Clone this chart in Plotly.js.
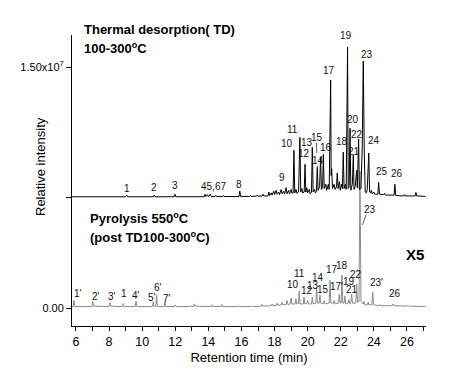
<!DOCTYPE html>
<html>
<head>
<meta charset="utf-8">
<script src="https://cdn.plot.ly/plotly-3.0.1.min.js"></script>
<style>html,body{margin:0;padding:0;background:#fff;}#chart{width:474px;height:380px;}</style>
</head>
<body>
<div id="chart"></div>
<script>
// ---- DATA (intensity in units of 10^6 counts) ----
// Thermal desorption (TD 100-300 °C) chromatogram
const tdTime = [5.76,9.0,9.06,9.12,10.68,10.73,10.78,11.93,11.98,12.03,13.75,13.8,13.85,13.95,14.0,14.12,14.18,14.4,14.45,14.5,14.85,14.9,14.95,15.85,15.9,15.95,16.5,16.55,16.6,16.9,16.95,17.0,17.25,17.3,17.35,17.6,17.65,17.7,17.8,17.85,17.95,18.0,18.1,18.15,18.25,18.3,18.4,18.45,18.55,18.6,18.7,18.75,18.85,18.9,19.0,19.05,19.12,19.17,19.22,19.3,19.35,19.45,19.53,19.58,19.65,19.7,19.79,19.84,19.89,19.95,20.0,20.1,20.15,20.23,20.28,20.33,20.42,20.47,20.53,20.58,20.63,20.72,20.78,20.83,20.9,20.95,21.0,21.1,21.15,21.25,21.3,21.39,21.42,21.45,21.5,21.6,21.65,21.74,21.79,21.84,21.92,21.97,22.05,22.1,22.15,22.2,22.28,22.33,22.41,22.45,22.51,22.56,22.61,22.7,22.76,22.8,22.88,22.96,23.0,23.08,23.12,23.22,23.3,23.36,23.42,23.48,23.55,23.6,23.69,23.74,23.8,23.85,23.9,24.0,24.05,24.24,24.29,24.34,24.6,24.65,24.7,25.0,25.22,25.27,25.32,25.8,25.85,25.9,26.49,26.54,26.6,27.13];
const tdIntensity = [0.05,0.05,0.25,0.05,0.05,0.25,0.05,0.06,0.35,0.06,0.06,0.35,0.08,0.3,0.08,0.35,0.08,0.08,0.2,0.08,0.08,0.2,0.08,0.08,0.7,0.1,0.1,0.2,0.1,0.12,0.25,0.12,0.15,0.35,0.15,0.15,0.6,0.2,0.5,0.25,0.7,0.3,0.8,0.35,0.6,0.3,0.9,0.4,0.7,0.35,1.1,0.4,0.8,0.4,0.9,0.45,0.5,5.42,0.5,0.9,0.45,0.6,6.9,0.6,1.0,0.5,0.6,3.8,0.6,1.1,0.5,0.9,0.4,0.6,5.77,0.6,0.9,0.5,0.7,3.5,0.8,1.2,4.6,0.9,1.2,4.95,1.0,1.5,0.8,1.5,0.9,13.5,2.5,3.3,1.0,1.5,0.9,1.2,2.8,1.0,1.8,0.8,1.5,1.0,5.2,1.0,1.5,0.9,17.3,1.0,1.2,7.95,0.8,1.5,4.9,0.9,1.3,3.1,1.1,6.7,0.9,1.0,6.0,15.7,5.0,0.6,0.5,0.9,5.1,0.6,0.5,0.8,0.4,0.6,0.35,0.35,1.7,0.35,0.3,0.45,0.25,0.25,0.25,1.5,0.2,0.15,0.3,0.15,0.15,0.55,0.15,0.1];

// Pyrolysis 550 °C (post TD) chromatogram, shown x5
const pyTime = [5.76,5.83,5.88,5.93,6.96,7.01,7.06,8.0,8.05,8.1,8.81,8.86,8.91,9.58,9.63,9.68,10.62,10.67,10.72,10.82,10.87,10.92,11.33,11.38,11.43,11.95,12.0,12.05,12.85,12.9,12.95,13.1,13.15,13.2,14.15,14.2,14.25,14.75,14.8,14.85,15.8,15.85,15.9,16.6,16.65,16.7,17.2,17.25,17.3,17.8,17.85,17.9,18.1,18.15,18.2,18.4,18.45,18.5,18.7,18.75,18.8,18.95,19.0,19.05,19.24,19.29,19.34,19.44,19.49,19.54,19.73,19.78,19.83,19.95,20.0,20.05,20.23,20.28,20.33,20.49,20.54,20.59,20.69,20.74,20.79,20.95,21.0,21.05,21.3,21.35,21.4,21.55,21.6,21.65,21.86,21.91,21.96,22.02,22.07,22.12,22.2,22.25,22.3,22.45,22.5,22.55,22.61,22.66,22.71,22.91,22.96,23.01,23.1,23.16,23.22,23.35,23.4,23.45,23.6,23.65,23.7,23.88,23.93,23.98,24.3,24.35,24.4,25.1,25.15,25.2,26.0,26.05,26.1,27.13];
const pyIntensity = [0.2,0.2,0.9,0.2,0.2,0.8,0.25,0.2,0.65,0.25,0.2,0.55,0.2,0.2,0.8,0.2,0.2,0.75,0.2,0.2,1.5,0.2,0.2,0.75,0.2,0.2,0.4,0.2,0.2,0.3,0.2,0.2,0.5,0.25,0.2,0.4,0.2,0.2,0.45,0.2,0.2,0.3,0.2,0.2,0.3,0.2,0.25,0.45,0.25,0.3,0.5,0.3,0.35,0.6,0.35,0.4,0.7,0.4,0.45,0.9,0.45,0.5,1.2,0.5,0.5,1.1,0.5,0.55,2.0,0.5,0.5,1.3,0.5,0.55,0.9,0.5,0.5,1.3,0.5,0.6,2.4,0.6,0.6,1.5,0.6,0.55,0.9,0.5,0.6,3.2,0.6,0.6,0.9,0.5,0.6,1.6,0.6,0.6,3.8,0.6,0.6,1.4,0.5,0.6,1.0,0.5,0.6,1.6,0.6,0.6,2.8,0.7,0.8,15.8,0.8,0.5,0.8,0.4,0.4,0.7,0.4,0.4,1.85,0.4,0.3,0.45,0.3,0.3,0.5,0.3,0.25,0.35,0.25,0.2];

const tdOffset = 12.8;                       // vertical offset of the TD trace
const yTickVals = [0, 12.8, 27.8];
const yTickText = ['0.00', '', '1.50x10<sup>7</sup>'];
const xTickVals = [6,7,8,9,10,11,12,13,14,15,16,17,18,19,20,21,22,23,24,25,26,27];
const xTickText = ['6','','8','','10','','12','','14','','16','','18','','20','','22','','24','','26',''];

// ---- geometry helpers for annotation placement (pixel -> data / paper) ----
const X = px => 6 + (px - 76) / 16.55;
const Y = py => (308.3 - py) / 8.667;
const PX = px => (px - 72) / 354;
const PY = py => (326 - py) / 291;

const FONT = 'Liberation Sans, Arial, sans-serif';
function lab(t, px, py, size) {
  return {x: X(px), y: Y(py), xref: 'x', yref: 'y', text: t, showarrow: false,
          font: {family: FONT, size: size || 10, color: '#111'}, xanchor: 'center', yanchor: 'middle'};
}
function bold(t, px, py, size, anchor) {
  return {x: PX(px), y: PY(py), xref: 'paper', yref: 'paper', text: '<b>' + t + '</b>', showarrow: false,
          xanchor: anchor || 'left', yanchor: 'middle', font: {family: FONT, size: size || 13, color: '#000'}};
}

const annotations = [
  // TD labels
  lab('1',126.7,188.3), lab('2',154.3,187.3), lab('3',175,185.7), lab('45,67',213.3,186.7),
  lab('8',239,184.3), lab('9',282.3,177.3), lab('10',287.3,144), lab('11',292.3,130),
  lab('12',304.3,154), lab('13',307.3,142.3), lab('15',317.3,137.7), lab('16',325.7,147.7),
  lab('14',318.3,161), lab('17',329,70.7), lab('18',342,141.7), lab('19',346,35.7),
  lab('20',353.3,119.3), lab('22',357.3,135), lab('21',354.3,151.7), lab('23',367,54.3),
  lab('24',373.7,140.7), lab('25',382.3,171.7), lab('26',397.3,174),
  // Pyrolysis labels
  lab("1'",78.3,294), lab("2'",95.7,296.7), lab("3'",111.7,296.7), lab('1',124.3,294),
  lab("4'",136,295.7), lab("5'",152.3,297.3), lab("6'",157.7,287.3), lab("7'",167.3,298.3),
  lab('10',293.3,285), lab('11',300,273.3), lab('12',306.7,291), lab('13',313.3,286),
  lab('14',317.7,277.3), lab('15',323.3,289.3), lab('17',331.7,270), lab('18',341.7,265.7),
  lab("17'",336.7,286.7), lab('19',348.7,282), lab('22',356,274.3), lab('21',351.7,290),
  lab("23'",376.7,282.7), lab('26',395,293.3), lab('23',370,210),
  // panel titles
  bold('Thermal desorption( TD)', 82, 29),
  bold('100-300<sup>o</sup>C', 82, 48),
  bold('Pyrolysis 550<sup>o</sup>C', 88, 217.7),
  bold('(post TD100-300<sup>o</sup>C)', 88, 237.3),
  bold('X5', 426, 254, 15, 'right'),
  // y-axis title
  {x: PX(40), y: PY(167), xref:'paper', yref:'paper', text:'Relative intensity', showarrow:false,
   textangle:-90, xanchor:'center', yanchor:'middle', font:{family:FONT, size:13, color:'#000'}}
];

const shapes = [
  {type:'line', xref:'x', yref:'y', x0:X(366), y0:Y(215), x1:X(362.5), y1:Y(225), line:{color:'#333', width:0.8}},
  {type:'line', xref:'x', yref:'y', x0:X(316.5), y0:Y(143), x1:X(316.8), y1:Y(153), line:{color:'#333', width:0.8}},
  {type:'line', xref:'x', yref:'y', x0:X(317.5), y0:Y(166), x1:X(317.5), y1:Y(170), line:{color:'#555', width:0.8, dash:'dot'}}
];

const traces = [
  {x: pyTime, y: pyIntensity, type:'scatter', mode:'lines', line:{color:'#8a8a8a', width:1}, hoverinfo:'skip'},
  {x: tdTime, y: tdIntensity.map(v => v + tdOffset), type:'scatter', mode:'lines', line:{color:'#000', width:1}, hoverinfo:'skip'}
];

const layout = {
  width: 474, height: 380,
  margin: {l:72, r:48, t:35, b:54},
  paper_bgcolor:'#fff', plot_bgcolor:'#fff',
  showlegend:false,
  font:{family:FONT, color:'#000'},
  xaxis:{range:[5.76,27.15], showline:true, linecolor:'#000', linewidth:1, mirror:false,
         ticks:'outside', ticklen:4, tickcolor:'#000', tickvals:xTickVals, ticktext:xTickText,
         showgrid:false, zeroline:false, tickfont:{size:12.5, family:FONT},
         title:{text:'Retention time (min)', font:{size:13, family:FONT}, standoff:4}},
  yaxis:{range:[-2.04,31.5], showline:true, linecolor:'#000', linewidth:1,
         ticks:'outside', ticklen:5, tickcolor:'#000', tickvals:yTickVals, ticktext:yTickText,
         showgrid:false, zeroline:false, tickfont:{size:11, family:FONT}},
  annotations: annotations,
  shapes: shapes
};

Plotly.newPlot('chart', traces, layout, {staticPlot:true, displayModeBar:false});
</script>
</body>
</html>
